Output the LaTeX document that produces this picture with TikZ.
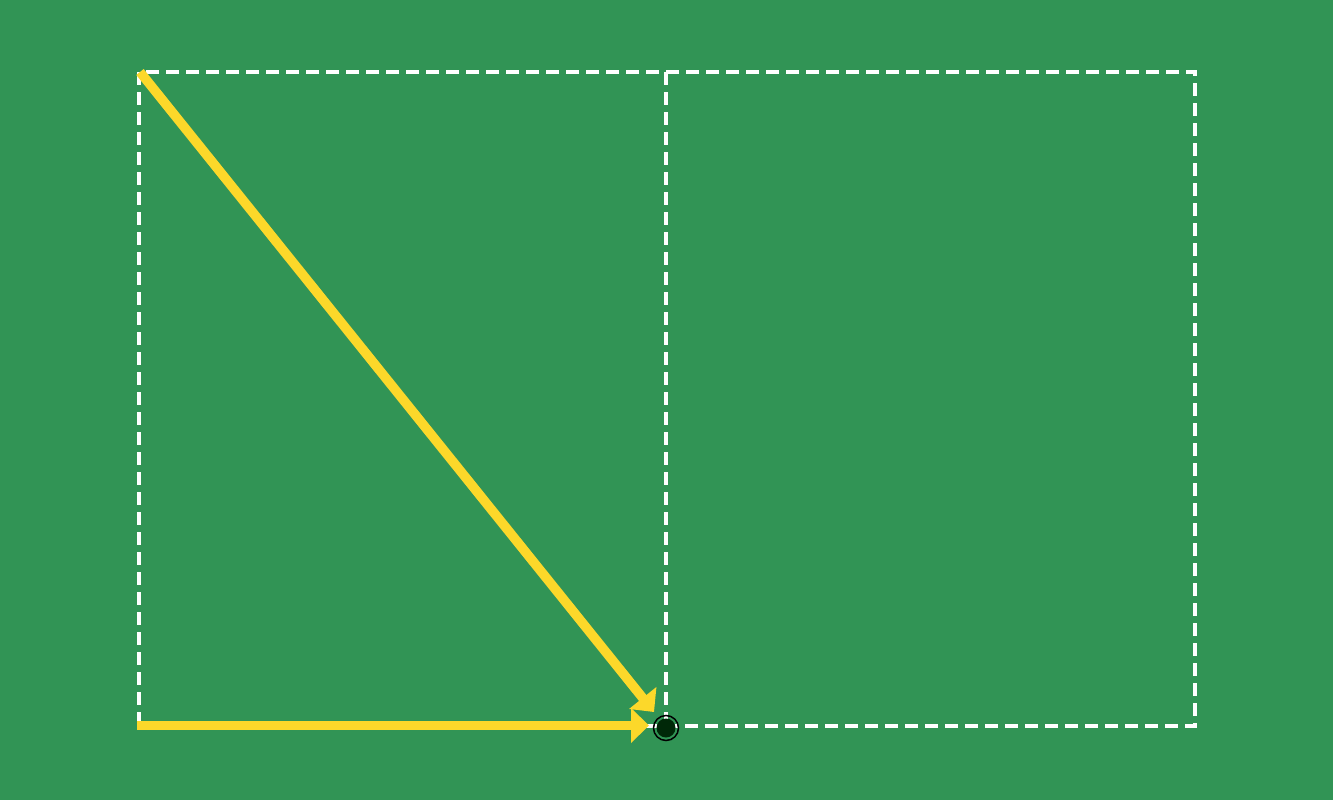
\documentclass[tikz,border=0pt]{standalone}
\usetikzlibrary{arrows.meta}
\definecolor{bggreen}{RGB}{49,148,85}
\definecolor{arrowyellow}{RGB}{252,216,42}
\definecolor{dotgreen}{RGB}{0,40,8}
\begin{document}
\begin{tikzpicture}[x=1pt,y=-1pt,
  guide/.style={draw=white,line width=3.5pt,dash pattern=on 13pt off 7pt},
  vec/.style={draw=arrowyellow,line width=9.5pt,-{Triangle[length=18pt,width=34pt]}}]
\fill[bggreen] (0,0) rectangle (1333,800);
\useasboundingbox (0,0) rectangle (1333,800);
\coordinate (tl) at (139,72);
\coordinate (br) at (1195,726);
\coordinate (mt) at (666,72);
\coordinate (mb) at (666,726);
\coordinate (hs) at (137,725.5);
\coordinate (he) at (649,725.5);
\coordinate (ds) at (140,72);
\coordinate (de) at (654,712);
\draw[guide] (tl) rectangle (br);
\draw[guide] (mt) -- (mb);
\draw[vec] (hs) -- (he);
\draw[vec] (ds) -- (de);
\node[circle,draw=black,line width=1.5pt,minimum size=25pt,inner sep=0pt] (ring) at (666,728) {};
\node[circle,fill=dotgreen,minimum size=19pt,inner sep=0pt] (dot) at (666,728) {};
\end{tikzpicture}
\end{document}
